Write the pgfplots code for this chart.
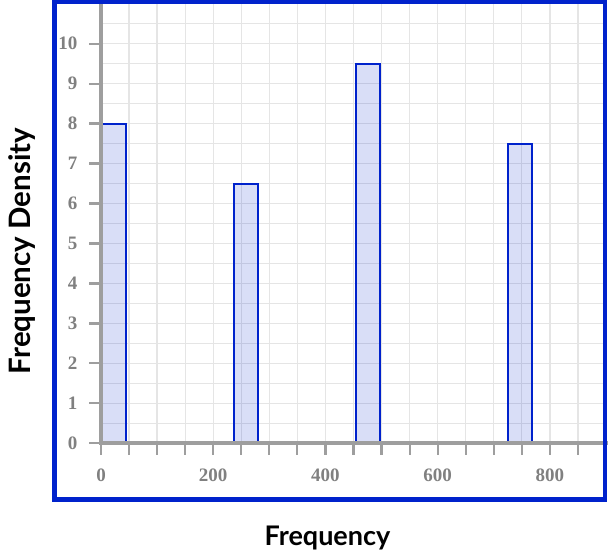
\documentclass[border=0pt]{standalone}
\usepackage{pgfplots}
\pgfplotsset{compat=1.18}
\usepackage{fontspec}
\setmainfont{Liberation Serif}
\newfontfamily\labelfont{Lato}
\definecolor{framebl}{RGB}{0,34,204}
\definecolor{axgray}{RGB}{158,158,158}
\definecolor{tickgray}{RGB}{128,128,128}
\definecolor{gridgray}{RGB}{229,229,229}
\begin{document}
\begin{tikzpicture}[x=1pt,y=1pt]
\useasboundingbox (0,0) rectangle (608,554);
\begin{axis}[
  at={(101pt,110.7pt)}, anchor=south west,
  scale only axis, width=505pt, height=439.6pt,
  xmin=0, xmax=900, ymin=0, ymax=11,
  axis lines=left, axis line style={draw=none},
  xtick={0,50,...,850},
  xticklabels={0,,,,200,,,,400,,,,600,,,,800,,},
  ytick={0,1,...,10},
  extra y ticks={0.5,1.5,...,10.5},
  extra y tick labels={},
  extra y tick style={major tick length=0pt, grid=major},
  grid=major,
  major grid style={draw=gridgray, line width=1.3pt},
  tick align=outside, major tick length=11.5pt,
  tick style={draw=axgray, line width=2.2pt},
  /pgf/number format/assume math mode=true,
  ticklabel style={font=\bfseries\fontsize{19}{19}\selectfont, text=tickgray, inner sep=0pt},
  xticklabel style={yshift=-14pt},
  yticklabel style={xshift=-12pt},
  clip=false,
]
\addplot[draw=framebl, line width=2pt, fill=framebl, fill opacity=0.15, mark=none] coordinates {(0,0) (0,8) (45,8) (45,0)};
\addplot[draw=framebl, line width=2pt, fill=framebl, fill opacity=0.15, mark=none] coordinates {(237,0) (237,6.5) (280,6.5) (280,0)};
\addplot[draw=framebl, line width=2pt, fill=framebl, fill opacity=0.15, mark=none] coordinates {(454,0) (454,9.5) (497,9.5) (497,0)};
\addplot[draw=framebl, line width=2pt, fill=framebl, fill opacity=0.15, mark=none] coordinates {(725,0) (725,7.5) (768,7.5) (768,0)};
\draw[axgray, line width=3.7pt, line cap=rect] (axis cs:0,0) -- (axis cs:900,0);
\draw[axgray, line width=3.7pt, line cap=rect] (axis cs:0,0) -- (axis cs:0,11);
\end{axis}
\draw[framebl, line width=4.5pt] (54.5,54.5) rectangle (605,552);
\node[font=\labelfont\bfseries\fontsize{27}{27}\selectfont, anchor=base] at (327.5,8) {Frequency};
\node[font=\labelfont\bfseries\fontsize{29.5}{29.5}\selectfont, anchor=base, rotate=90] at (31,303) {Frequency Density};
\end{tikzpicture}
\end{document}
